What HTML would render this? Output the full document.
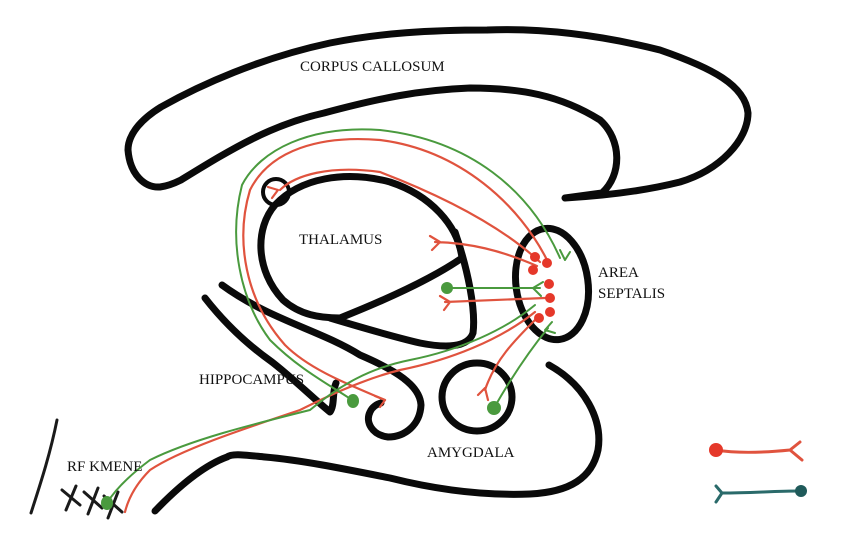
<!DOCTYPE html>
<html><head><meta charset="utf-8"><style>
html,body{margin:0;padding:0;background:#fff;}
svg{display:block;}
text{font-family:"Liberation Serif",serif;font-size:15px;fill:#111;}
</style></head><body>
<svg width="842" height="538" viewBox="0 0 842 538" xmlns="http://www.w3.org/2000/svg">
<g fill="none" stroke="#0a0a0a" stroke-width="7" stroke-linecap="round" stroke-linejoin="round">
<!-- corpus callosum -->
<path d="M181,180 C230,150 270,125 324,113 C380,98 420,90 470,88 C520,88 560,95 600,120 C622,140 622,175 602,193 L565,198 C600,196 640,192 680,182 C720,170 748,140 748,113 C745,85 712,68 660,50 C600,35 540,28 487,30 C430,30 380,33 330,43 C260,58 200,85 161,107 C140,120 128,135 128,150 C130,175 145,188 160,187 C168,186 175,183 181,180 Z"/>
<!-- thalamus -->
<path d="M462,258 C458,225 430,195 390,182 C345,170 300,178 275,205 C255,228 255,270 283,300 C300,315 320,318 340,318 C385,300 430,280 462,258 Z"/>
<path d="M455,232 C468,270 476,310 473,333 C468,348 445,348 420,343 C390,336 360,327 330,318"/>
<circle cx="276" cy="192" r="13" stroke-width="4"/>
<!-- hippocampus -->
<path d="M205,298 C230,330 255,350 272,362 C295,380 315,400 330,412 C335,405 332,392 336,383"/>
<path d="M222,285 C270,320 320,330 360,355 C395,370 420,385 421,405 C420,425 405,437 388,437 C372,435 365,422 370,412 C372,407 377,404 381,403"/>
<!-- area septalis -->
<ellipse cx="552" cy="284" rx="36" ry="56" transform="rotate(-8 552 284)"/>
<!-- amygdala -->
<ellipse cx="477" cy="397" rx="35" ry="34"/>
<!-- lower curve -->
<path d="M549,365 C585,385 603,420 598,450 C592,478 570,492 530,494 C480,496 430,488 390,478 C340,468 300,460 265,457 C245,455 232,453 227,457 C205,465 180,485 155,511"/>
</g>
<!-- left line & X marks -->
<g stroke="#1a1a1a" stroke-width="3" fill="none" stroke-linecap="round">
<path d="M57,420 C50,455 40,485 31,513"/>
<path d="M62,490 L80,505 M76,486 L66,510"/>
<path d="M84,492 L102,508 M98,488 L88,514"/>
<path d="M104,496 L122,512 M118,492 L108,518"/>
</g>
<!-- fibers red -->
<g fill="none" stroke="#e0533e" stroke-width="2.2" stroke-linecap="round">
<path d="M548,262 C520,205 460,150 380,140 C320,135 270,150 250,190 C235,240 245,300 285,345 C310,370 350,385 385,400"/>
<path d="M540,262 C500,225 440,195 380,172 C330,165 295,175 280,190"/>
<path d="M278,190 L268,187 M278,190 L272,198"/>
<path d="M537,266 C500,250 470,243 435,242 M440,242 L430,236 M440,242 L432,250"/>
<path d="M545,298 L445,302 M450,302 L440,296 M450,302 L444,310"/>
<path d="M535,312 C500,340 450,360 400,370 C360,380 320,400 300,410 C240,430 180,450 150,470 C135,485 128,500 125,512"/>
<path d="M535,320 C515,340 495,360 485,390 M485,388 L478,395 M485,388 L488,400"/>
<path d="M385,400 L375,396 M385,400 L380,407"/>
</g>
<!-- fibers green -->
<g fill="none" stroke="#4a9a3e" stroke-width="2" stroke-linecap="round">
<path d="M560,258 C530,190 470,140 380,130 C310,125 260,150 242,185 C228,240 240,300 270,340 C300,370 330,385 352,400"/>
<path d="M540,288 L450,288 M533,288 L543,282 M533,288 L541,296"/>
<path d="M535,305 C505,330 460,350 410,360 C370,368 340,385 310,410 C250,425 190,440 150,460 C130,475 115,490 107,503"/>
<path d="M548,328 C530,350 510,380 494,408 M545,330 L552,322 M545,330 L555,333"/>
<path d="M565,260 L560,250 M565,260 L570,252"/>
</g>
<g fill="#4a9a3e">
<ellipse cx="447" cy="288" rx="6" ry="6"/>
<ellipse cx="353" cy="401" rx="6" ry="7"/>
<ellipse cx="494" cy="408" rx="7" ry="7"/>
<ellipse cx="107" cy="503" rx="6" ry="7"/>
</g>
<g fill="#e5382a">
<circle cx="535" cy="257" r="5"/><circle cx="547" cy="263" r="5"/>
<circle cx="533" cy="270" r="5"/><circle cx="549" cy="284" r="5"/>
<circle cx="550" cy="298" r="5"/><circle cx="550" cy="312" r="5"/>
<circle cx="539" cy="318" r="5"/>
</g>
<!-- legend -->
<g fill="none" stroke-linecap="round" stroke-width="3">
<path d="M716,450 C740,454 770,452 790,450 M790,450 L800,442 M790,450 L802,460" stroke="#e0533e"/>
<path d="M722,493 C750,493 775,491 800,491 M722,493 L716,486 M722,493 L716,502" stroke="#2a6a6a"/>
</g>
<circle cx="716" cy="450" r="7" fill="#e5382a"/>
<circle cx="801" cy="491" r="6" fill="#1f5a5a"/>
<text x="300" y="71">CORPUS CALLOSUM</text>
<text x="299" y="244">THALAMUS</text>
<text x="598" y="277">AREA</text>
<text x="598" y="298">SEPTALIS</text>
<text x="199" y="384">HIPPOCAMPUS</text>
<text x="67" y="471">RF KMENE</text>
<text x="427" y="457">AMYGDALA</text>
</svg>
</body></html>
